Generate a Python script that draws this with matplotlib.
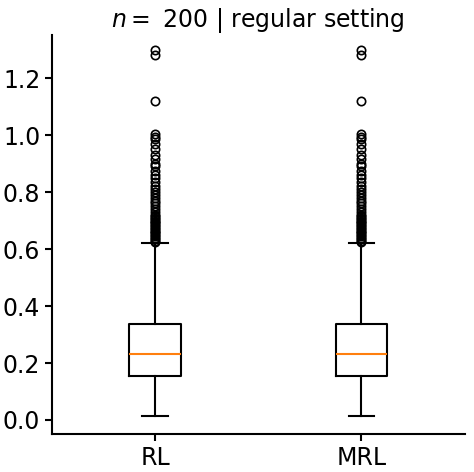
import matplotlib
matplotlib.use("Agg")
import matplotlib.pyplot as plt

labels = ["RL", "MRL"]
whislo = [0.015, 0.015]
q1 = [0.153, 0.153]
med = [0.230, 0.230]
q3 = [0.338, 0.338]
whishi = [0.622, 0.622]
fliers = [0.625, 0.63, 0.635, 0.64, 0.645, 0.65, 0.655, 0.66, 0.665, 0.67, 0.675, 0.68,
          0.685, 0.69, 0.695, 0.70, 0.705, 0.71, 0.715, 0.72, 0.73, 0.74, 0.75, 0.76,
          0.77, 0.78, 0.79, 0.80, 0.81, 0.82, 0.835, 0.85, 0.86, 0.875, 0.89, 0.90,
          0.915, 0.93, 0.95, 0.97, 0.985, 0.995, 1.005, 1.12, 1.28, 1.30]

stats = [dict(label=labels[i], whislo=whislo[i], q1=q1[i], med=med[i], q3=q3[i],
              whishi=whishi[i], fliers=fliers) for i in range(2)]

lw = 1.5
fig, ax = plt.subplots(figsize=(4.74, 4.72), dpi=100)
ax.bxp(stats, widths=0.25,
       boxprops=dict(linewidth=lw), whiskerprops=dict(linewidth=lw),
       capprops=dict(linewidth=lw), medianprops=dict(linewidth=lw, color="#ff7f0e"),
       flierprops=dict(markeredgewidth=1.2))
ax.set_ylim(-0.05, 1.35)
ax.set_yticks([0.0, 0.2, 0.4, 0.6, 0.8, 1.0, 1.2])
ax.spines["top"].set_visible(False)
ax.spines["right"].set_visible(False)
for s in ("left", "bottom"):
    ax.spines[s].set_linewidth(lw)
ax.tick_params(labelsize=17, width=lw, length=5)
ax.set_title(r"$n=$ 200 | regular setting", fontsize=17)
fig.subplots_adjust(left=0.11, right=0.98, bottom=0.08, top=0.925)
fig.savefig("out.png")
